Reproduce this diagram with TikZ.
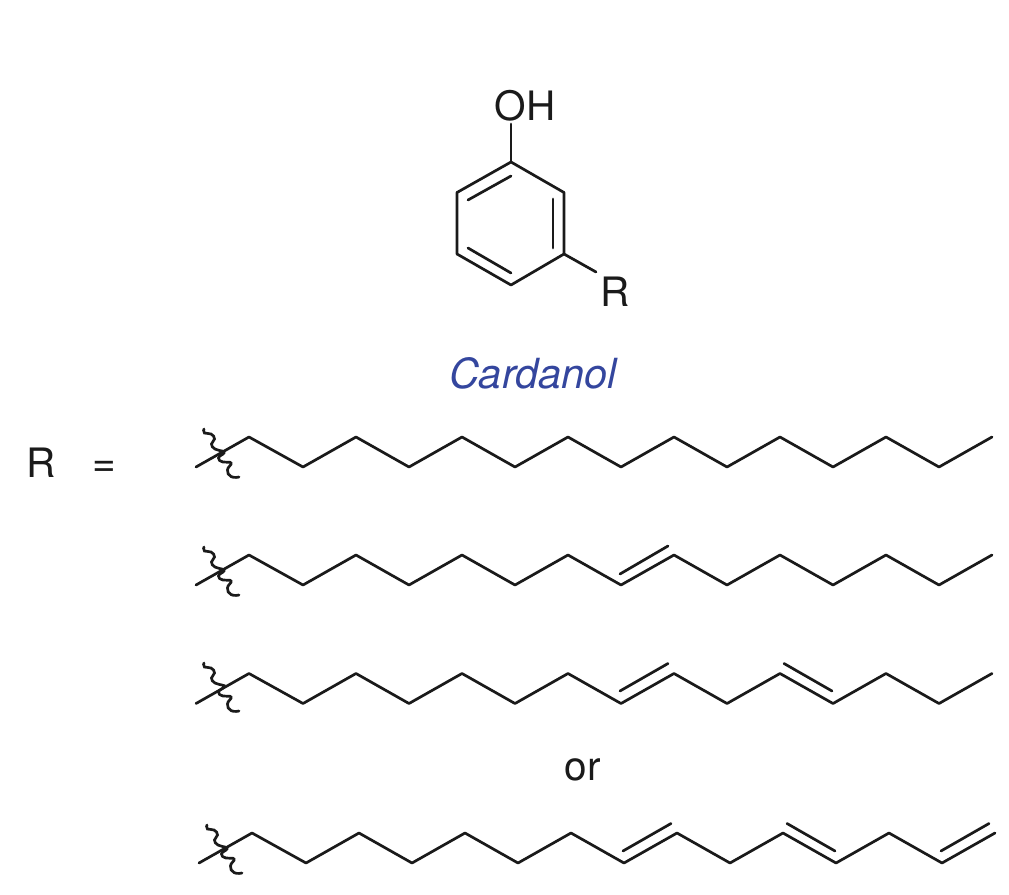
\documentclass[tikz,border=0pt]{standalone}
\usepackage{fontspec}
\setmainfont{TeX Gyre Heros}
\definecolor{ink}{HTML}{1A1A1A}
\definecolor{cardblue}{HTML}{34469E}
\tikzset{
  bond/.style={draw=ink,line width=2.7pt,line cap=round,line join=round},
  wavy/.style={draw=ink,line width=2.7pt,line cap=round},
  label/.style={inner sep=0pt,outer sep=0pt,text=ink,anchor=base west,font=\fontsize{40.5}{48}\selectfont},
}
% #1 x of attachment end, #2 top y of the zig-zag
\newcommand{\wavecut}[2]{%
  \draw[wavy] plot[smooth,tension=0.9] coordinates {
    (#1-45,#2-8) (#1-44.5,#2-4) (#1-38,#2-3) (#1-34.5,#2+2) (#1-37.5,#2+7) (#1-34,#2+12) (#1-27,#2+14) (#1-25,#2+16) (#1-30.5,#2+21) (#1-26,#2+25) (#1-18,#2+26) (#1-21.5,#2+33) (#1-18,#2+39.5) (#1-10,#2+40)};
}
\begin{document}
\begin{tikzpicture}[x=1pt,y=-1pt]
\useasboundingbox (0,0) rectangle (1009,894);
% Phenol ring
\coordinate (c1) at (511,162);
\coordinate (c2) at (564,192.5);
\coordinate (c3) at (564,254);
\coordinate (c4) at (511,285);
\coordinate (c5) at (457,254);
\coordinate (c6) at (457,192.5);
\node[label] (oh) at (494.5,120) {OH};
\node[label] (r) at (600,306) {R};
\coordinate (ohb) at (511,124);
\coordinate (rb) at (596,272);
\draw[bond] (c1) -- (c2) -- (c3) -- (c4) -- (c5) -- (c6) -- cycle;
\draw[bond] (c1) -- (ohb);
\draw[bond] (c3) -- (rb);
\draw[bond] (468,200) -- (511,176);
\draw[bond] (553,199) -- (553,248);
\draw[bond] (468,248) -- (511,273);
\node[label,text=cardblue,font=\fontsize{41.5}{48}\selectfont\itshape] (cardanol) at (449,388) {Cardanol};
\node[label] (rr) at (27,477) {R};
\node[label] (eq) at (92.5,476) {=};
\node[label] (or) at (564.5,780) {or};
% Chain 1
\draw[bond] (196,467) -- (249,437) -- (303,467) -- (356,437) -- (409,467) -- (462,437) -- (515,467) -- (568,437) -- (621,467) -- (674,437) -- (727,467) -- (780,437) -- (833,467) -- (886,437) -- (939,467) -- (992,437);
\wavecut{249}{437}
% Chain 2
\draw[bond] (196,585) -- (249,555) -- (303,585) -- (356,555) -- (409,585) -- (462,555) -- (515,585) -- (568,555) -- (621,585) -- (674,555) -- (727,585) -- (780,555) -- (833,585) -- (886,555) -- (939,585) -- (992,555);
\draw[bond] (620,574) -- (668,546);
\wavecut{249}{555}
% Chain 3
\draw[bond] (196,703.5) -- (249,673.5) -- (303,703.5) -- (356,673.5) -- (409,703.5) -- (462,673.5) -- (515,703.5) -- (568,673.5) -- (621,703.5) -- (674,673.5) -- (727,703.5) -- (780,673.5) -- (833,703.5) -- (886,673.5) -- (939,703.5) -- (992,673.5);
\draw[bond] (620,691) -- (668,663.5);
\draw[bond] (784,663.5) -- (832,691);
\wavecut{249}{671}
% Chain 4
\draw[bond] (199,863) -- (252,833) -- (306,863) -- (359,833) -- (412,863) -- (465,833) -- (518,863) -- (571,833) -- (624,863) -- (677,833) -- (730,863) -- (783,833) -- (836,863) -- (889,833) -- (942,863) -- (995,833);
\draw[bond] (623,851) -- (671,823.5);
\draw[bond] (787,823.5) -- (835,851);
\draw[bond] (941,851) -- (989,823.5);
\wavecut{252}{833}
\end{tikzpicture}
\end{document}
